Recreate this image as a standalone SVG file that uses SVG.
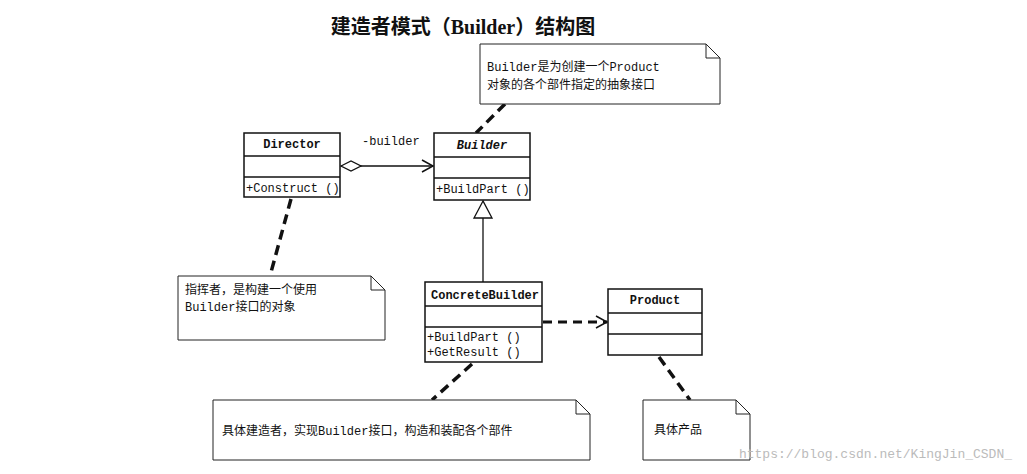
<svg xmlns="http://www.w3.org/2000/svg" width="1027" height="474" viewBox="0 0 1027 474">
<style>
.b{fill:#fff;stroke:#111;stroke-width:1.5}
.t{font-family:"Liberation Mono","Noto Sans CJK SC",monospace;font-size:12px;fill:#111}
.tb{font-family:"Liberation Mono","Noto Sans CJK SC",monospace;font-size:12px;font-weight:bold;fill:#111}
.n{fill:#fff;stroke:#222;stroke-width:1}
.d{stroke:#111;stroke-width:3.5;stroke-dasharray:10,6;fill:none}
</style>
<defs>
<marker id="open" markerWidth="14" markerHeight="14" refX="12" refY="7" orient="auto" markerUnits="userSpaceOnUse"><path d="M1,1 L12,7 L1,13" fill="none" stroke="#111" stroke-width="1.5"/></marker>
<marker id="dia" markerWidth="24" markerHeight="12" refX="1" refY="6" orient="auto" markerUnits="userSpaceOnUse"><path d="M1,6 L11,1 L21,6 L11,11 Z" fill="#fff" stroke="#111" stroke-width="1.3"/></marker>
</defs>
<rect width="1027" height="474" fill="#fff"/>
<text x="463" y="34" text-anchor="middle" font-family="Liberation Serif,'Noto Sans CJK SC',serif" font-size="20" font-weight="bold" fill="#111">建造者模式（Builder）结构图</text>
<g id="connectors">
<line x1="341" y1="166" x2="433" y2="166" stroke="#111" stroke-width="1.3" marker-start="url(#dia)" marker-end="url(#open)"/>
<text class="t" x="362" y="145">-builder</text>
<line x1="483" y1="282" x2="483" y2="218" stroke="#111" stroke-width="1.3"/>
<polygon points="483,201 474,218 492,218" fill="#fff" stroke="#111" stroke-width="1.3"/>
<line x1="543" y1="322" x2="607" y2="322" stroke="#111" stroke-width="3" stroke-dasharray="9,6" marker-end="url(#open)"/>
<line class="d" x1="505" y1="104" x2="476" y2="133"/>
<line class="d" x1="291" y1="199" x2="270" y2="276"/>
<line class="d" x1="472" y1="364" x2="432" y2="400"/>
<line class="d" x1="659" y1="357" x2="690" y2="400"/>
</g>
<g id="director">
<rect class="b" x="244" y="133" width="96" height="64"/>
<line class="b" x1="244" y1="156" x2="340" y2="156"/><line class="b" x1="244" y1="177" x2="340" y2="177"/>
<text class="tb" x="292" y="148" text-anchor="middle">Director</text>
<text class="t" x="246" y="192">+Construct ()</text>
</g>
<g id="builder">
<rect class="b" x="434" y="133" width="96" height="67"/>
<line class="b" x1="434" y1="157" x2="530" y2="157"/><line class="b" x1="434" y1="178" x2="530" y2="178"/>
<text class="tb" x="482" y="149" text-anchor="middle" font-style="italic">Builder</text>
<text class="t" x="436" y="193">+BuildPart ()</text>
</g>
<g id="concrete">
<rect class="b" x="425" y="282" width="117" height="80"/>
<line class="b" x1="425" y1="306" x2="542" y2="306"/><line class="b" x1="425" y1="327" x2="542" y2="327"/>
<text class="tb" x="431" y="299">ConcreteBuilder</text>
<text class="t" x="427" y="341">+BuildPart ()</text>
<text class="t" x="427" y="356">+GetResult ()</text>
</g>
<g id="product">
<rect class="b" x="608" y="289" width="94" height="66"/>
<line class="b" x1="608" y1="313" x2="702" y2="313"/><line class="b" x1="608" y1="334" x2="702" y2="334"/>
<text class="tb" x="655" y="304" text-anchor="middle">Product</text>
</g>
<g id="note-builder">
<path class="n" d="M480,44 H706 L720,58 V104 H480 Z M706,44 V58 H720"/>
<text class="t" x="487" y="71">Builder是为创建一个Product</text>
<text class="t" x="487" y="89">对象的各个部件指定的抽象接口</text>
</g>
<g id="note-director">
<path class="n" d="M178,276 H371 L385,290 V340 H178 Z M371,276 V290 H385"/>
<text class="t" x="185" y="294">指挥者，是构建一个使用</text>
<text class="t" x="185" y="311">Builder接口的对象</text>
</g>
<g id="note-concrete">
<path class="n" d="M213,400 H576 L590,414 V460 H213 Z M576,400 V414 H590"/>
<text class="t" x="222" y="435">具体建造者，实现Builder接口，构造和装配各个部件</text>
</g>
<g id="note-product">
<path class="n" d="M643,400 H736 L750,414 V460 H643 Z M736,400 V414 H750"/>
<text class="t" x="654" y="434">具体产品</text>
</g>
<text x="1012" y="458" text-anchor="end" font-family="Liberation Mono,monospace" font-size="13" fill="#bbb">https://blog.csdn.net/KingJin_CSDN_</text>
</svg>
